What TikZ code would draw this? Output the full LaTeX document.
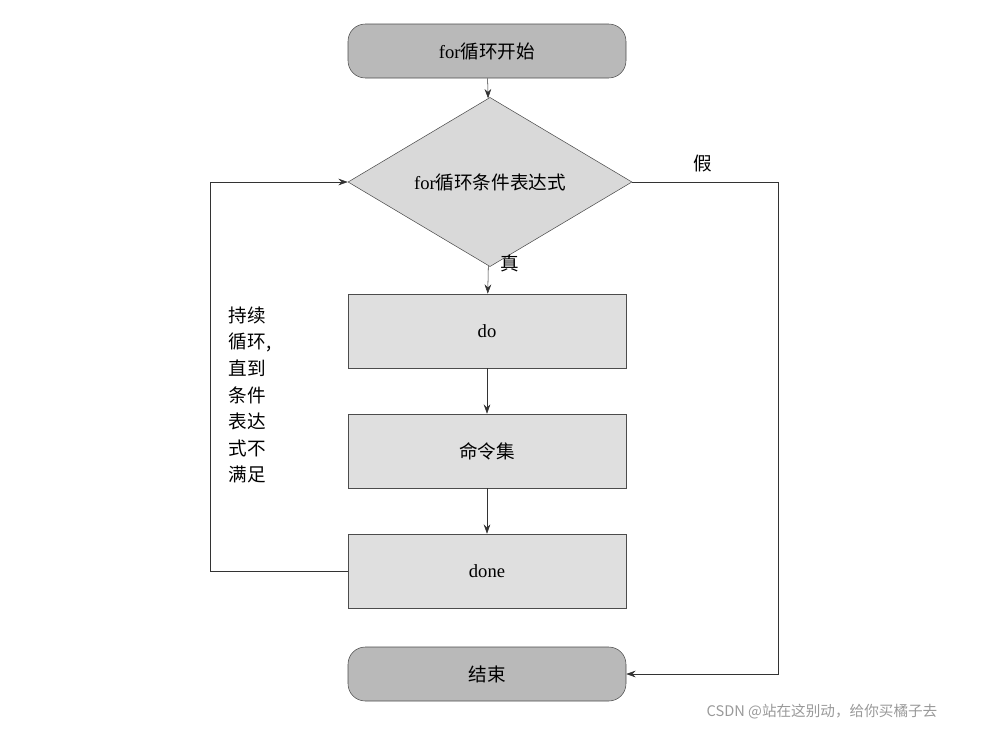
\documentclass[tikz,border=0pt]{standalone}
\usepackage{fontspec}
\setmainfont{Liberation Serif}
\newfontfamily\cjk{Noto Sans CJK SC}
\usetikzlibrary{shapes.geometric,arrows.meta}
\begin{document}
\begin{tikzpicture}[x=0.02646cm,y=-0.02646cm]
        \tikzstyle{every node}=[font=\fontsize{14}{19}\selectfont, text=black]
        \tikzstyle{term}=[rectangle, rounded corners=13pt, fill=gray!55, draw=black!70, minimum width=278*0.02646cm, minimum height=54*0.02646cm]
        \tikzstyle{box}=[rectangle, fill=gray!25, draw=black!70, minimum width=278*0.02646cm, minimum height=74*0.02646cm]
        \tikzstyle{edge}=[black!80, -{Stealth[length=7pt,width=5pt]}]

        \useasboundingbox (0,0) rectangle (994,731);

        \node[term] (start) at (487,51)  {for{\cjk 循环开始}};
        \node[diamond, fill=gray!30, draw=black!70, minimum width=284*0.02646cm, minimum height=120*0.02646cm, inner sep=0pt] (cond) at (490,182) {for{\cjk 循环条件表达式}};
        \node[box] (do)   at (487,331) {do};
        \node[box] (cmds) at (487,451) {\cjk 命令集};
        \node[box] (done) at (487,571) {done};
        \node[term] (end) at (487,674)   {\cjk 结束};

        \coordinate (r1) at (778,182);
        \coordinate (r2) at (778,674);
        \coordinate (l1) at (210,571);
        \coordinate (l2) at (210,182);

        \draw[edge] (start) -- (cond);
        \draw[edge] (cond) -- (do);
        \draw[edge] (do) -- (cmds);
        \draw[edge] (cmds) -- (done);
        \draw[edge] (cond.east) -- (r1) -- (r2) -- (end.east);
        \draw[edge] (done.west) -- (l1) -- (l2) -- (cond.west);

        \node[font=\fontsize{14}{19}\selectfont\cjk] (yes) at (510,263) {真};
        \node[font=\fontsize{14}{19}\selectfont\cjk] (no)  at (703,163) {假};
        \node[align=left, font=\fontsize{14}{20}\selectfont\cjk] (loop) at (250,395) {持续\\循环,\\直到\\条件\\表达\\式不\\满足};
        \node[text=gray!80, font=\fontsize{11}{13}\selectfont\cjk] (mark) at (822,712) {CSDN @站在这别动，给你买橘子去};
    \end{tikzpicture}
\end{document}
